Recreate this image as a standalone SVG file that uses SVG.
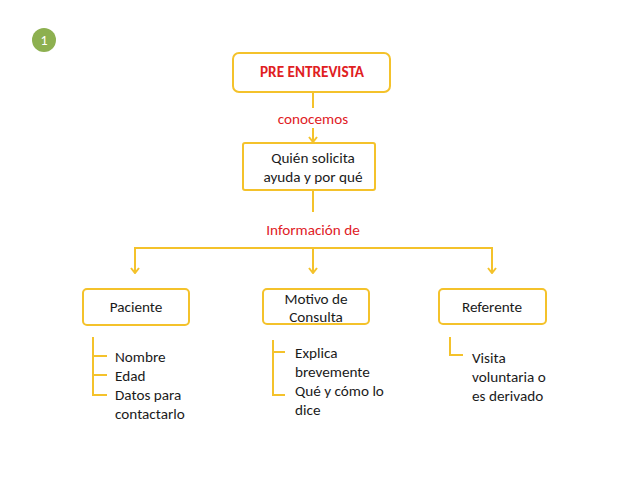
<svg xmlns="http://www.w3.org/2000/svg" width="638" height="479" viewBox="0 0 638 479">
<style>
.box{fill:#fff;stroke:#F4C22B;stroke-width:2}
.ln{fill:none;stroke:#F4C22B;stroke-width:2}
text{font-family:Carlito,Lato,"Liberation Sans",sans-serif;font-size:15.2px;fill:#1a1a1a}
.c{text-anchor:middle}
.red{fill:#E0201F}
</style>
<defs>
<marker id="arr" viewBox="0 0 10 10" refX="9" refY="5" markerWidth="10" markerHeight="10" markerUnits="userSpaceOnUse" orient="auto-start-reverse">
<path d="M4,1 L9,5 L4,9" fill="none" stroke="#F4C22B" stroke-width="2"/>
</marker>
</defs>
<rect width="638" height="479" fill="#fff"/>
<g id="badge">
<circle cx="44" cy="40" r="12" fill="#8DB050"/>
<text x="44" y="45" class="c" style="fill:#fff;font-size:14px">1</text>
</g>
<g id="connectors">
<line class="ln" x1="313" y1="92" x2="313" y2="108"/>
<line class="ln" x1="313" y1="128" x2="313" y2="142" marker-end="url(#arr)"/>
<line class="ln" x1="313" y1="190" x2="313" y2="212"/>
<polyline class="ln" points="135,273 135,248 492,248 492,273" marker-start="url(#arr)" marker-end="url(#arr)"/>
<line class="ln" x1="313" y1="248" x2="313" y2="273" marker-end="url(#arr)"/>
<polyline class="ln" points="107,356 93,356"/>
<polyline class="ln" points="93,337 93,395 107,395"/>
<line class="ln" x1="93" y1="375" x2="107" y2="375"/>
<polyline class="ln" points="273,340 273,395 285,395"/>
<line class="ln" x1="273" y1="352" x2="285" y2="352"/>
<polyline class="ln" points="450,337 450,355 463,355"/>
</g>
<g id="label-conocemos"><text x="313" y="124" class="c red">conocemos</text></g>
<g id="label-informacion"><text x="313" y="235" class="c red">Información de</text></g>
<g id="pre">
<rect class="box" x="233" y="53" width="157" height="39" rx="6"/>
<text x="312" y="77" class="c red" style="font-weight:bold">PRE ENTREVISTA</text>
</g>
<g id="quien">
<rect class="box" x="243" y="143" width="132" height="47" rx="2"/>
<text x="313" y="163" class="c">Quién solicita</text>
<text x="313" y="182" class="c">ayuda y por qué</text>
</g>
<g id="paciente">
<rect class="box" x="83" y="289" width="106" height="36" rx="4"/>
<text x="136" y="312" class="c">Paciente</text>
</g>
<g id="motivo">
<rect class="box" x="263" y="289" width="106" height="35" rx="4"/>
<text x="316" y="304" class="c">Motivo de</text>
<text x="316" y="322" class="c">Consulta</text>
</g>
<g id="referente">
<rect class="box" x="439" y="289" width="107" height="35" rx="4"/>
<text x="492" y="312" class="c">Referente</text>
</g>
<g id="paciente-items">
<text x="115" y="362">Nombre</text>
<text x="115" y="381">Edad</text>
<text x="115" y="400">Datos para</text>
<text x="115" y="419">contactarlo</text>
</g>
<g id="motivo-items">
<text x="295" y="358">Explica</text>
<text x="295" y="377">brevemente</text>
<text x="295" y="396">Qué y cómo lo</text>
<text x="295" y="415">dice</text>
</g>
<g id="referente-items">
<text x="472" y="363">Visita</text>
<text x="472" y="382">voluntaria o</text>
<text x="472" y="401">es derivado</text>
</g>
</svg>
